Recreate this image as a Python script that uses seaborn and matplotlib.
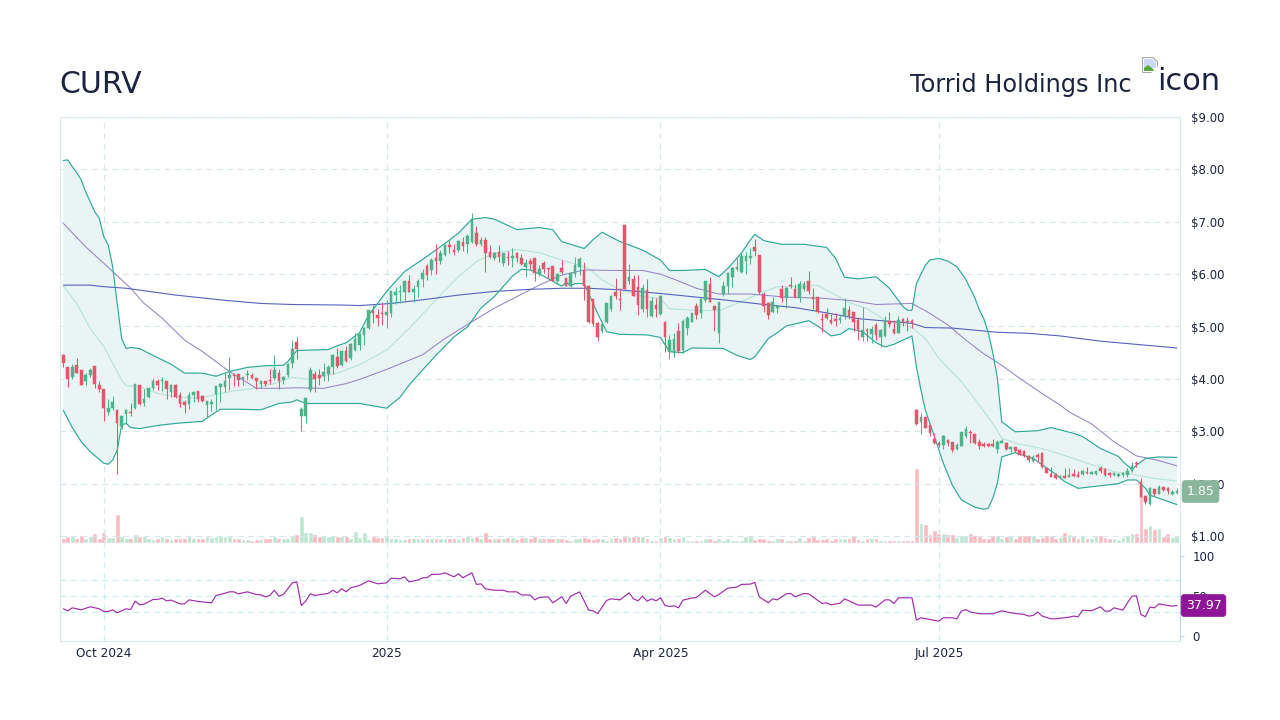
import numpy as np
import matplotlib
matplotlib.use("Agg")
import matplotlib.pyplot as plt
from matplotlib.patches import Polygon
import seaborn as sns

TICKER = "CURV"
COMPANY = "Torrid Holdings Inc"

opens = [
    4.46,4.23,4.04,4.26,4.16,3.96,4.07,4.25,3.88,3.80,
    3.36,3.45,3.41,3.10,3.32,3.37,3.44,3.88,3.53,3.65,
    3.82,3.96,3.95,3.95,3.75,3.88,3.69,3.55,3.52,3.70,
    3.76,3.67,3.50,3.52,3.72,3.85,3.85,4.01,4.08,4.09,
    4.00,4.07,4.07,4.01,3.91,3.95,3.98,4.01,4.12,3.98,
    4.08,4.30,4.70,3.30,3.30,3.79,4.09,4.07,4.05,4.09,
    4.22,4.41,4.26,4.53,4.39,4.56,4.65,4.84,4.97,5.30,
    5.22,5.26,5.22,5.25,5.61,5.65,5.66,5.86,5.65,5.75,
    5.90,6.15,6.07,6.30,6.25,6.36,6.56,6.46,6.46,6.62,
    6.57,6.62,6.79,6.57,6.66,6.43,6.30,6.43,6.22,6.33,
    6.31,6.41,6.30,6.14,6.25,6.30,6.00,6.21,6.12,6.15,
    5.86,6.11,5.92,5.78,6.00,6.14,6.07,5.77,5.52,5.07,
    4.91,5.09,5.33,5.66,5.53,6.94,5.86,5.90,5.75,5.33,
    5.70,5.20,5.41,5.24,5.08,4.52,4.49,4.91,4.55,4.98,
    5.09,5.39,5.25,5.50,5.82,5.40,4.88,5.62,5.78,5.94,
    6.09,6.05,6.26,6.31,6.51,6.36,5.62,5.44,5.27,5.36,
    5.71,5.54,5.79,5.71,5.54,5.71,5.87,5.56,5.56,5.15,
    5.24,5.12,5.15,5.13,5.20,5.31,5.27,5.12,4.80,4.93,
    4.85,5.02,4.79,4.82,5.10,4.96,4.88,5.15,5.11,5.10,
    3.41,3.18,3.27,3.12,2.86,2.78,2.74,2.83,2.79,2.67,
    2.72,2.90,2.99,2.94,2.80,2.76,2.76,2.76,2.66,2.78,
    2.78,2.66,2.69,2.64,2.62,2.53,2.43,2.55,2.58,2.29,
    2.18,2.16,2.11,2.15,2.13,2.18,2.16,2.18,2.23,2.18,
    2.18,2.30,2.27,2.20,2.17,2.15,2.16,2.16,2.25,2.39,
    2.04,1.77,1.61,1.89,1.81,1.93,1.92,1.80,1.82,
]
highs = [
    4.47,4.23,4.28,4.39,4.17,4.12,4.20,4.25,3.96,3.80,
    3.61,3.68,3.41,3.29,3.42,3.53,3.90,3.88,3.80,3.82,
    4.01,3.99,4.04,3.96,3.90,3.91,3.75,3.60,3.75,3.77,
    3.76,3.69,3.58,3.61,3.86,3.93,4.12,4.41,4.12,4.09,
    4.04,4.16,4.12,4.01,3.98,3.96,4.18,4.46,4.18,4.05,
    4.30,4.75,4.79,3.47,3.63,4.22,4.15,4.18,4.30,4.27,
    4.47,4.58,4.56,4.63,4.69,4.88,4.87,4.99,5.31,5.41,
    5.33,5.46,5.51,5.68,5.76,5.80,5.89,5.99,5.79,5.91,
    6.09,6.20,6.30,6.57,6.46,6.57,6.66,6.57,6.65,6.70,
    6.76,7.17,6.91,6.70,6.70,6.56,6.43,6.56,6.41,6.45,
    6.49,6.43,6.38,6.28,6.30,6.30,6.17,6.25,6.12,6.15,
    6.03,6.27,5.92,6.05,6.33,6.32,6.24,5.79,5.52,5.09,
    5.07,5.45,5.60,5.92,5.73,6.94,6.20,5.98,5.98,5.82,
    5.90,5.57,5.54,5.60,5.08,4.84,4.88,5.07,5.15,5.20,
    5.26,5.44,5.54,5.87,5.94,5.40,5.47,5.86,6.05,6.13,
    6.33,6.40,6.43,6.50,6.68,6.36,5.66,5.47,5.56,5.42,
    5.79,5.76,5.94,5.81,5.86,5.87,6.06,5.73,5.56,5.25,
    5.36,5.24,5.25,5.20,5.54,5.39,5.28,5.19,5.38,4.98,
    5.01,5.07,4.96,5.20,5.28,5.12,5.21,5.16,5.19,5.14,
    3.42,3.34,3.28,3.14,2.96,2.82,2.93,2.86,2.79,2.78,
    2.99,3.10,3.02,2.94,2.85,2.80,2.78,2.85,2.83,2.85,
    2.80,2.70,2.70,2.66,2.64,2.55,2.55,2.58,2.60,2.30,
    2.32,2.20,2.17,2.29,2.29,2.28,2.25,2.26,2.32,2.24,
    2.25,2.34,2.29,2.23,2.23,2.21,2.23,2.29,2.41,2.43,
    2.10,1.78,1.93,1.90,1.98,1.93,1.93,1.87,1.91,
]
lows = [
    4.23,3.85,3.99,4.11,3.88,3.88,4.03,3.82,3.74,3.20,
    3.31,3.41,2.18,3.05,3.15,3.30,3.42,3.50,3.48,3.63,
    3.79,3.79,3.77,3.61,3.65,3.63,3.47,3.34,3.42,3.56,
    3.56,3.56,3.28,3.39,3.41,3.56,3.75,3.79,3.86,3.86,
    3.88,3.98,3.99,3.80,3.82,3.86,3.91,3.98,3.81,3.90,
    4.03,4.20,4.37,3.01,3.16,3.75,3.74,3.88,3.95,3.95,
    4.10,4.20,4.25,4.32,4.36,4.54,4.56,4.65,4.95,5.07,
    5.00,5.03,4.98,5.19,5.43,5.45,5.47,5.66,5.47,5.57,
    5.75,5.89,5.98,6.01,6.20,6.35,6.40,6.36,6.43,6.45,
    6.40,6.59,6.54,6.54,6.05,6.30,6.27,6.24,6.15,6.17,
    6.14,6.24,6.17,5.94,6.09,5.86,5.96,6.03,5.92,5.86,
    5.81,6.00,5.77,5.75,5.94,5.98,5.51,5.07,5.01,4.73,
    4.88,5.07,5.30,5.52,5.31,5.71,5.82,5.58,5.22,5.28,
    5.19,5.19,5.19,5.22,4.52,4.37,4.42,4.50,4.50,4.84,
    5.08,5.15,5.17,5.47,5.46,4.92,4.68,5.58,5.62,5.76,
    6.06,6.03,6.01,6.20,6.35,5.63,5.28,5.15,5.26,5.26,
    5.47,5.35,5.74,5.55,5.46,5.68,5.62,5.33,5.26,4.90,
    5.15,5.05,5.01,5.06,5.15,5.15,4.92,4.75,4.73,4.73,
    4.69,4.74,4.60,4.79,4.99,4.86,4.87,5.01,4.92,4.98,
    3.11,2.95,3.06,2.91,2.76,2.69,2.66,2.72,2.61,2.64,
    2.71,2.88,2.77,2.75,2.67,2.69,2.69,2.69,2.58,2.77,
    2.64,2.59,2.60,2.55,2.50,2.41,2.41,2.44,2.30,2.20,
    2.12,2.09,2.08,2.10,2.12,2.12,2.12,2.16,2.18,2.18,
    2.17,2.21,2.14,2.13,2.14,2.12,2.13,2.13,2.23,2.32,
    1.75,1.62,1.59,1.76,1.80,1.85,1.81,1.79,1.81,
]
closes = [
    4.31,3.99,4.23,4.11,3.88,4.07,4.17,3.90,3.80,3.45,
    3.44,3.56,3.16,3.29,3.41,3.34,3.90,3.52,3.61,3.82,
    3.95,3.88,3.98,3.80,3.88,3.65,3.52,3.50,3.70,3.75,
    3.62,3.58,3.58,3.56,3.86,3.90,3.95,4.07,4.05,3.98,
    4.03,4.09,4.02,3.96,3.96,3.91,3.95,4.17,3.95,4.04,
    4.28,4.57,4.57,3.42,3.63,4.17,3.99,4.02,4.14,4.22,
    4.46,4.25,4.53,4.35,4.67,4.77,4.86,4.98,5.31,5.26,
    5.16,5.23,5.28,5.68,5.65,5.68,5.87,5.66,5.71,5.86,
    6.02,5.98,6.27,6.25,6.40,6.56,6.51,6.43,6.63,6.54,
    6.72,7.06,6.57,6.66,6.41,6.33,6.40,6.32,6.40,6.30,
    6.35,6.30,6.19,6.22,6.19,6.03,6.10,6.10,6.10,5.86,
    6.00,6.05,5.78,6.03,6.17,6.28,5.77,5.09,5.05,4.79,
    5.05,5.44,5.59,5.58,5.51,5.71,5.94,5.58,5.41,5.73,
    5.33,5.49,5.33,5.58,4.79,4.75,4.77,4.54,5.10,5.17,
    5.25,5.22,5.52,5.86,5.47,5.31,5.47,5.77,6.03,6.11,
    6.13,6.35,6.35,6.35,6.45,5.66,5.39,5.22,5.46,5.40,
    5.54,5.74,5.77,5.57,5.82,5.82,5.68,5.52,5.28,5.13,
    5.17,5.06,5.11,5.17,5.35,5.21,5.09,4.95,4.93,4.91,
    4.95,4.84,4.94,5.12,5.05,4.88,5.12,5.07,5.09,5.06,
    3.14,3.28,3.07,2.96,2.77,2.74,2.90,2.78,2.65,2.74,
    2.98,3.04,2.97,2.78,2.71,2.71,2.71,2.71,2.80,2.82,
    2.67,2.69,2.63,2.55,2.52,2.46,2.51,2.50,2.31,2.21,
    2.12,2.11,2.15,2.11,2.16,2.15,2.13,2.24,2.20,2.23,
    2.24,2.25,2.17,2.17,2.20,2.18,2.20,2.25,2.34,2.37,
    1.75,1.64,1.91,1.80,1.94,1.88,1.85,1.84,1.85,
]
# Daily volume, millions of shares
volumes = [
    .33,.53,.47,.33,.63,.33,.47,.83,.27,.93,
    .37,.37,2.73,.53,.33,.27,.73,.53,.47,.33,
    .23,.27,.47,.33,.23,.27,.27,.27,.53,.27,
    .27,.27,.53,.37,.47,.53,.47,.53,.33,.27,
    .23,.17,.13,.23,.17,.27,.33,.47,.33,.27,
    .27,.53,.73,2.53,.93,.93,.73,.47,.53,.47,
    .63,.53,.47,.47,.33,1.03,.37,.93,.23,.47,
    .37,.37,.47,.27,.33,.23,.17,.27,.27,.27,
    .27,.27,.27,.27,.33,.27,.27,.27,.20,.37,
    .47,.37,.47,.27,.93,.27,.27,.27,.27,.37,
    .37,.17,.37,.37,.27,.47,.27,.27,.27,.27,
    .27,.27,.17,.13,.27,.27,.37,.27,.17,.27,
    .27,.13,.27,.37,.27,.53,.47,.47,.53,.47,
    .27,.13,.13,.37,.47,.37,.27,.27,.47,.13,
    .13,.13,.13,.27,.27,.13,.27,.13,.27,.13,
    .13,.13,.47,.53,.17,.27,.27,.13,.13,.27,
    .27,.13,.13,.13,.37,.13,.37,.47,.17,.17,
    .27,.13,.27,.27,.27,.33,.63,.17,.13,.27,
    .27,.27,.13,.13,.13,.13,.13,.13,.13,.13,
    7.27,1.83,1.73,.67,1.07,.77,.77,.67,.67,.43,
    .63,.57,.77,.57,.50,.33,.27,.57,.57,.27,
    .50,.50,.33,.57,.57,.57,.57,.27,.43,.57,
    .50,.33,.43,.93,.67,.50,.33,.57,.33,.27,
    .50,.57,.43,.27,.33,.17,.43,.57,.83,.83,
    6.40,1.33,1.60,1.17,1.33,.50,.83,.43,.50,
]

upper_bars = [0,1,2,3,4,5,6,7,8,9,10,11,12,13,14,15,17,19,24,27,31,34,37,41,45,49,50,52,55,59,61,63,66,68,70,72,
              76,80,83,88,91,94,96,101,106,109,111,116,118,120,124,129,133,135,138,143,146,148,151,153,154,156,160,
              165,170,172,174,177,181,184,187,188,189,190,192,193,195,197,199,201,203,204,205,206,207,208,209,212,217,220,225,227,
              231,235,236,238,239,241,244,248]
upper_band = [8.17,8.18,8.05,7.94,7.80,7.57,7.38,7.19,7.07,6.72,6.56,6.14,5.44,4.77,4.58,4.60,4.58,4.49,4.28,4.11,4.11,4.05,4.14,4.22,4.25,4.26,4.33,4.54,4.55,4.56,4.63,4.69,4.88,5.22,5.44,5.67,
              6.05,6.28,6.46,6.78,7.05,7.08,7.05,6.85,6.89,6.85,6.62,6.49,6.66,6.80,6.62,6.46,6.27,6.07,6.07,6.09,5.95,6.11,6.40,6.65,6.76,6.64,6.57,
              6.57,6.51,6.30,5.94,5.91,5.95,5.73,5.38,5.31,5.31,5.82,6.17,6.27,6.30,6.25,6.14,5.90,5.55,5.32,5.15,4.88,4.50,4.03,3.18,2.99,3.01,3.07,2.96,2.90,
              2.67,2.52,2.42,2.27,2.35,2.48,2.51,2.50]

lower_bars = [0,2,4,6,9,10,11,12,13,14,15,17,21,25,31,33,35,39,44,46,48,51,52,54,58,66,72,75,77,80,83,87,90,93,96,100,102,104,107,
              111,112,113,114,116,117,119,121,124,130,133,135,138,140,147,150,153,154,157,159,161,166,168,171,173,175,178,181,183,185,
              189,190,191,192,194,196,198,200,203,205,206,207,208,209,212,216,218,221,223,226,230,235,237,239,241,242,245,248]
lower_band = [3.40,3.07,2.80,2.61,2.39,2.37,2.45,2.64,3.12,3.15,3.07,3.05,3.11,3.15,3.19,3.31,3.42,3.42,3.41,3.47,3.53,3.56,3.60,3.53,3.53,3.53,3.44,3.65,3.88,4.17,4.45,4.80,4.99,5.35,5.57,5.96,6.09,6.08,5.96,
              5.77,5.84,5.78,5.82,5.82,5.63,5.25,4.90,4.85,4.84,4.79,4.52,4.50,4.59,4.58,4.45,4.37,4.42,4.77,4.88,5.01,5.11,5.01,4.82,4.85,4.96,4.90,4.69,4.61,4.66,
              4.82,4.23,3.79,3.40,2.90,2.39,1.97,1.69,1.55,1.51,1.53,1.72,2.00,2.51,2.59,2.48,2.36,2.18,2.04,1.91,1.95,2.00,2.07,2.07,1.91,1.78,1.69,1.60]

middle_bars = [0,3,6,9,11,13,14,17,21,25,30,35,38,42,47,51,55,61,66,72,77,83,88,92,96,101,106,111,117,120,124,129,133,135,140,146,150,155,159,165,168,
               172,175,179,183,189,192,195,200,204,207,209,212,218,224,228,234,238,243,248]
middle_band = [5.77,5.44,4.96,4.62,4.30,3.98,3.87,3.85,3.72,3.66,3.63,3.72,3.77,3.81,3.91,4.03,3.99,4.11,4.27,4.55,4.96,5.51,5.95,6.24,6.40,6.47,6.41,6.27,6.11,5.89,5.70,5.58,5.53,5.34,5.31,5.30,5.44,5.63,5.76,5.76,5.79,
               5.60,5.46,5.34,5.12,4.98,4.77,4.39,3.95,3.50,3.15,2.87,2.77,2.67,2.51,2.39,2.23,2.18,2.10,2.05]

sma50_bars = [0,5,9,15,18,22,27,31,37,43,48,52,58,63,66,72,80,85,91,96,101,106,111,116,122,129,133,137,141,146,153,161,169,176,181,185,189,192,193,197,201,205,209,213,218,222,224,229,234,239,244,248]
sma50 = [6.97,6.52,6.21,5.73,5.44,5.16,4.74,4.52,4.14,3.82,3.82,3.83,3.82,3.91,3.99,4.18,4.46,4.77,5.09,5.35,5.57,5.79,5.98,6.08,6.07,6.07,6.00,5.87,5.73,5.62,5.62,5.56,5.54,5.49,5.42,5.43,5.44,5.30,5.25,5.03,4.74,4.48,4.26,4.01,3.72,3.50,3.37,3.14,2.80,2.53,2.44,2.34]

sma200_bars = [0,6,9,14,25,36,44,51,62,66,73,81,88,96,104,111,117,124,133,140,148,155,163,170,177,185,189,192,198,208,215,222,231,248]
sma200 = [5.79,5.79,5.76,5.73,5.60,5.50,5.44,5.42,5.41,5.40,5.44,5.52,5.60,5.67,5.71,5.73,5.73,5.70,5.63,5.57,5.50,5.43,5.36,5.26,5.15,5.09,5.06,4.98,4.97,4.89,4.87,4.82,4.72,4.59]

rsi_bars = [0,1,2,4,6,8,9,10,11,12,14,15,16,17,18,20,21,22,23,24,26,27,28,30,33,34,35,37,38,39,41,43,44,45,46,47,48,49,51,52,53,54,55,56,59,60,61,62,63,64,66,68,70,72,73,75,76,77,79,80,81,82,84,85,87,88,89,91,92,93,94,96,98,99,101,102,104,105,106,108,109,111,112,113,115,117,118,119,121,122,124,126,127,128,129,130,131,132,133,134,135,136,137,138,140,141,143,145,146,148,150,151,153,154,155,157,158,159,161,162,163,165,166,169,170,171,173,174,177,180,181,183,184,185,186,189,190,191,195,196,198,199,200,201,202,204,207,209,211,214,215,216,217,218,220,221,224,225,226,227,229,231,232,233,234,236,237,238,239,240,241,242,243,244,246,247,248]
rsi = [33.9,31.4,35.1,32.6,36.4,33.9,30.6,30.6,32.6,28.9,33.9,33.0,43.4,38.9,39.7,45.5,45.5,47.2,43.8,44.7,40.0,40.0,45.0,43.0,41.3,50.5,51.7,55.0,55.0,52.5,55.0,51.7,51.3,48.8,50.5,57.0,49.6,51.7,66.2,67.5,38.0,43.4,52.5,50.5,53.0,57.0,53.8,58.8,55.0,60.0,63.0,68.7,65.0,66.2,72.0,71.2,73.7,67.5,69.6,72.5,72.5,76.6,77.0,78.7,73.7,77.5,72.5,78.7,64.2,65.0,58.8,57.0,57.0,55.0,55.0,51.3,50.9,45.0,48.0,48.8,41.3,48.8,40.5,49.6,55.0,32.2,31.4,27.7,44.3,46.3,45.0,53.8,46.3,43.8,49.6,43.4,46.3,43.8,47.6,38.0,36.8,37.6,35.1,44.7,47.2,48.0,57.0,48.8,51.7,59.6,60.9,64.2,64.6,66.7,48.8,41.3,46.3,45.0,52.5,53.0,48.8,53.0,52.5,40.5,41.3,38.9,40.9,46.3,38.5,38.5,36.0,45.0,45.0,40.5,47.6,47.6,19.8,22.7,18.5,22.7,22.7,21.4,31.0,33.0,30.0,27.7,27.7,31.4,28.9,26.8,24.8,25.6,30.0,24.8,21.4,21.4,23.5,24.8,24.0,32.2,31.4,36.4,31.0,31.0,35.1,32.2,41.3,49.6,50.0,26.8,24.0,36.0,35.1,40.0,38.0,37.2,37.97]

price_ticks = [1, 2, 3, 4, 5, 6, 7, 8, 9]
rsi_ticks = [0, 50, 100]
rsi_grid = [30, 50, 70]
date_ticks = [9, 72, 133, 195]
date_labels = ["Oct 2024", "2025", "Apr 2025", "Jul 2025"]

INK = "#1c2340"
UP = "#4fb28a"
DOWN = "#e3566c"
UP_VOL = "#bde5d2"
DOWN_VOL = "#f9bac3"
BAND = "#2fa899"
BAND_FILL = "#e9f5f4"
MIDDLE = "#b4e3da"
SMA50 = "#9883c8"
SMA200 = "#5463bd"
RSI_LINE = "#a22bae"
RSI_TAG = "#8f1598"
PRICE_TAG = "#8ab69b"
GRID = "#d6e7eb"
RSI_GRID = "#c7effa"
FRAME = "#dbe9f0"

sns.set_theme(style="white", font="DejaVu Sans", rc={"lines.scale_dashes": False, "axes.linewidth": 0.8})

W, H = 1280, 720
fig = plt.figure(figsize=(W / 100, H / 100), dpi=100, facecolor="white")


def px_axes(left, top, right, bottom):
    return fig.add_axes([left / W, 1 - bottom / H, (right - left) / W, (bottom - top) / H])


vol_ax = px_axes(60, 117, 1180, 545)
ax = px_axes(60, 117, 1180, 545)
rsi_ax = px_axes(60, 545, 1180, 641)
ax.patch.set_visible(False)
rsi_ax.patch.set_visible(False)
xlim = (-0.735, 248.7)
dash = (0, (4.3, 3.2))

# Volume along the foot of the price panel
bars = np.arange(len(closes))
is_up = np.array(closes) >= np.array(opens)
vol_ax.bar(bars, volumes, width=0.62, color=np.where(is_up, UP_VOL, DOWN_VOL),
           edgecolor=np.where(is_up, UP_VOL, DOWN_VOL), linewidth=0.4)
vol_ax.set_xlim(*xlim)
vol_ax.set_ylim(-0.3, 42.5)
vol_ax.axis("off")

# Bollinger envelope
ax.fill(np.r_[upper_bars, lower_bars[::-1]], np.r_[upper_band, lower_band[::-1]],
        color=BAND_FILL, lw=0, zorder=1)
ax.set_axisbelow(True)
ax.set_yticks(price_ticks)
ax.set_xticks(date_ticks)
ax.grid(True, color=GRID, lw=0.8, ls=dash, zorder=1.5)

for xs, ys, color, lw in [(middle_bars, middle_band, MIDDLE, 0.8),
                          (sma50_bars, sma50, SMA50, 0.75),
                          (sma200_bars, sma200, SMA200, 0.8),
                          (upper_bars, upper_band, BAND, 0.85),
                          (lower_bars, lower_band, BAND, 0.85)]:
    sns.lineplot(x=xs, y=ys, color=color, lw=lw, estimator=None, sort=False, ax=ax, zorder=2)

# Candles
colors = np.where(is_up, UP, DOWN)
ax.vlines(bars, lows, highs, colors=colors, lw=0.75, zorder=3)
ax.bar(bars, np.array(closes) - np.array(opens), bottom=opens, width=0.58,
       color=colors, edgecolor=colors, linewidth=0.35, zorder=4)

ax.set_xlim(*xlim)
ax.set_ylim(9 - 428 / 52.375, 9)
ax.set_xlabel("")
ax.set_ylabel("")
ax.yaxis.tick_right()
ax.set_yticklabels([f"${v:.2f}" for v in price_ticks])
ax.tick_params(axis="y", length=0, pad=8, labelsize=8.5, labelcolor=INK)
ax.tick_params(axis="x", length=0, labelbottom=False)
ax.spines["bottom"].set_visible(False)
for side in ("left", "right", "top"):
    ax.spines[side].set_color(FRAME)

# RSI panel
sns.lineplot(x=rsi_bars, y=rsi, color=RSI_LINE, lw=0.85, estimator=None, sort=False, ax=rsi_ax, zorder=3)
rsi_ax.set_xlim(*xlim)
rsi_ax.set_ylim(-6.2, 113.3)
rsi_ax.yaxis.tick_right()
rsi_ax.set_yticks(rsi_ticks)
rsi_ax.set_xticks(date_ticks)
rsi_ax.set_xticklabels(date_labels)
rsi_ax.set_xlabel("")
rsi_ax.set_ylabel("")
for level in rsi_grid:
    rsi_ax.axhline(level, color=RSI_GRID, lw=0.8, ls=dash, zorder=1)
rsi_ax.xaxis.grid(True, color=RSI_GRID, lw=0.8, ls=dash, zorder=1)
rsi_ax.tick_params(axis="y", length=3, width=0.8, color="#bcd6e2", pad=6, labelsize=8.5, labelcolor=INK)
rsi_ax.tick_params(axis="x", length=0, pad=4, labelsize=8.7, labelcolor=INK)
for side in ("left", "bottom"):
    rsi_ax.spines[side].set_color(FRAME)
rsi_ax.spines["top"].set_visible(False)
rsi_ax.spines["right"].set_color("#bcd6e2")

# Last-value tags on the right edge
ax.text(1.0 + 20.5 / 1120, closes[-1], f"{closes[-1]:.2f}", transform=ax.get_yaxis_transform(),
        ha="center", va="center", color="white", fontsize=9, clip_on=False, zorder=6,
        bbox=dict(boxstyle="round,pad=0.36,rounding_size=0.25", fc=PRICE_TAG, ec=PRICE_TAG, lw=0.5))
rsi_ax.text(1.0 + 23.5 / 1120, rsi[-1], f"{rsi[-1]:.2f}", transform=rsi_ax.get_yaxis_transform(),
            ha="center", va="center", color="white", fontsize=9, clip_on=False, zorder=6,
            bbox=dict(boxstyle="round,pad=0.36,rounding_size=0.25", fc=RSI_TAG, ec=RSI_TAG, lw=0.5))

# Heading row
fig.text(59.5 / W, 1 - 93 / H, TICKER, fontsize=21.6, color=INK, ha="left", va="baseline")
fig.text(910 / W, 1 - 92 / H, COMPANY, fontsize=17.3, color=INK, ha="left", va="baseline")
fig.text(1157 / W, 1 - 90 / H, "icon", fontsize=22, color=INK, ha="left", va="baseline")

# Placeholder glyph shown where the logo image would sit
glyph = px_axes(1142, 57, 1158, 73)
glyph.set_xlim(0, 16)
glyph.set_ylim(16, 0)
glyph.axis("off")
glyph.add_patch(Polygon([[0.5, 0.5], [11, 0.5], [15.5, 5], [15.5, 15.5], [0.5, 15.5]], fc="white", ec="#a9a9a9", lw=0.8))
glyph.add_patch(Polygon([[2, 2], [10.5, 2], [14, 6], [14, 11], [2, 11]], fc="#c9d9f2", ec="none"))
glyph.add_patch(Polygon([[2, 14], [2, 11], [6, 8], [10, 11], [13, 14]], fc="#59a83c", ec="none"))
glyph.add_patch(Polygon([[9, 16], [16, 9], [16, 16]], fc="white", ec="none"))

fig.savefig("out.png", dpi=100, facecolor="white")
